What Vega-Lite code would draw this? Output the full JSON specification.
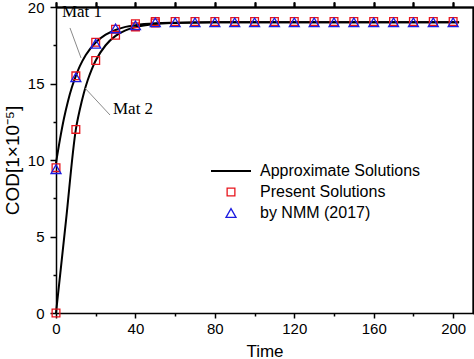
{
  "$schema": "https://vega.github.io/schema/vega-lite/v6.json",
  "width": 417,
  "height": 306,
  "autosize": {"type": "none"},
  "padding": {"left": 56, "top": 7, "right": 1, "bottom": 46},
  "background": "white",
  "config": {
    "view": {"stroke": null},
    "font": "Liberation Sans",
    "axis": {
      "grid": false,
      "labelFlush": false,
      "domainColor": "black",
      "domainWidth": 1.5,
      "tickColor": "black",
      "tickWidth": 1.5,
      "labelColor": "black",
      "labelFont": "Liberation Sans",
      "labelFontSize": 15,
      "titleColor": "black",
      "titleFont": "Liberation Sans",
      "titleFontWeight": "normal"
    }
  },
  "datasets": {
    "curves": [
      {"mat": "Mat 1", "t": 0, "v": 9.8},
      {"mat": "Mat 1", "t": 2, "v": 11.35},
      {"mat": "Mat 1", "t": 4, "v": 12.71},
      {"mat": "Mat 1", "t": 6, "v": 13.83},
      {"mat": "Mat 1", "t": 8, "v": 14.75},
      {"mat": "Mat 1", "t": 10, "v": 15.5},
      {"mat": "Mat 1", "t": 12, "v": 16.13},
      {"mat": "Mat 1", "t": 15, "v": 16.86},
      {"mat": "Mat 1", "t": 20, "v": 17.68},
      {"mat": "Mat 1", "t": 25, "v": 18.19},
      {"mat": "Mat 1", "t": 30, "v": 18.5},
      {"mat": "Mat 1", "t": 35, "v": 18.7},
      {"mat": "Mat 1", "t": 40, "v": 18.81},
      {"mat": "Mat 1", "t": 50, "v": 18.93},
      {"mat": "Mat 1", "t": 60, "v": 18.97},
      {"mat": "Mat 1", "t": 70, "v": 18.99},
      {"mat": "Mat 1", "t": 80, "v": 19.0},
      {"mat": "Mat 1", "t": 120, "v": 19.0},
      {"mat": "Mat 1", "t": 160, "v": 19.0},
      {"mat": "Mat 1", "t": 203, "v": 19.0},
      {"mat": "Mat 2", "t": 0, "v": 0},
      {"mat": "Mat 2", "t": 5, "v": 6.0},
      {"mat": "Mat 2", "t": 10, "v": 12.0},
      {"mat": "Mat 2", "t": 12, "v": 13.3},
      {"mat": "Mat 2", "t": 14, "v": 14.37},
      {"mat": "Mat 2", "t": 16, "v": 15.23},
      {"mat": "Mat 2", "t": 18, "v": 15.93},
      {"mat": "Mat 2", "t": 20, "v": 16.5},
      {"mat": "Mat 2", "t": 25, "v": 17.5},
      {"mat": "Mat 2", "t": 30, "v": 18.11},
      {"mat": "Mat 2", "t": 35, "v": 18.47},
      {"mat": "Mat 2", "t": 40, "v": 18.68},
      {"mat": "Mat 2", "t": 50, "v": 18.89},
      {"mat": "Mat 2", "t": 60, "v": 18.96},
      {"mat": "Mat 2", "t": 70, "v": 18.99},
      {"mat": "Mat 2", "t": 80, "v": 19.0},
      {"mat": "Mat 2", "t": 120, "v": 19.0},
      {"mat": "Mat 2", "t": 160, "v": 19.0},
      {"mat": "Mat 2", "t": 203, "v": 19.0}
    ],
    "present": [
      {"mat": "Mat 1", "t": 0, "v": 9.5},
      {"mat": "Mat 1", "t": 10, "v": 15.5},
      {"mat": "Mat 1", "t": 20, "v": 17.7},
      {"mat": "Mat 1", "t": 30, "v": 18.55},
      {"mat": "Mat 1", "t": 40, "v": 18.9},
      {"mat": "Mat 1", "t": 50, "v": 19.05},
      {"mat": "Mat 1", "t": 60, "v": 19.05},
      {"mat": "Mat 1", "t": 70, "v": 19.05},
      {"mat": "Mat 1", "t": 80, "v": 19.05},
      {"mat": "Mat 1", "t": 90, "v": 19.05},
      {"mat": "Mat 1", "t": 100, "v": 19.05},
      {"mat": "Mat 1", "t": 110, "v": 19.05},
      {"mat": "Mat 1", "t": 120, "v": 19.05},
      {"mat": "Mat 1", "t": 130, "v": 19.05},
      {"mat": "Mat 1", "t": 140, "v": 19.05},
      {"mat": "Mat 1", "t": 150, "v": 19.05},
      {"mat": "Mat 1", "t": 160, "v": 19.05},
      {"mat": "Mat 1", "t": 170, "v": 19.05},
      {"mat": "Mat 1", "t": 180, "v": 19.05},
      {"mat": "Mat 1", "t": 190, "v": 19.05},
      {"mat": "Mat 1", "t": 200, "v": 19.05},
      {"mat": "Mat 2", "t": 0, "v": 0},
      {"mat": "Mat 2", "t": 10, "v": 12.0},
      {"mat": "Mat 2", "t": 20, "v": 16.5},
      {"mat": "Mat 2", "t": 30, "v": 18.15},
      {"mat": "Mat 2", "t": 40, "v": 18.7},
      {"mat": "Mat 2", "t": 50, "v": 18.95}
    ],
    "nmm": [
      {"t": 0, "v": 9.4},
      {"t": 10, "v": 15.4},
      {"t": 20, "v": 17.6},
      {"t": 30, "v": 18.6},
      {"t": 40, "v": 18.8},
      {"t": 50, "v": 19.0},
      {"t": 60, "v": 19.0},
      {"t": 70, "v": 19.0},
      {"t": 80, "v": 19.0},
      {"t": 90, "v": 19.0},
      {"t": 100, "v": 19.0},
      {"t": 110, "v": 19.0},
      {"t": 120, "v": 19.0},
      {"t": 130, "v": 19.0},
      {"t": 140, "v": 19.0},
      {"t": 150, "v": 19.0},
      {"t": 160, "v": 19.0},
      {"t": 170, "v": 19.0},
      {"t": 180, "v": 19.0},
      {"t": 190, "v": 19.0},
      {"t": 200, "v": 19.0}
    ],
    "labels": [
      {"label": "Mat 1", "t": 3.0, "v": 19.67, "lt": 7.05, "lv": 18.63, "lt2": 12.6, "lv2": 16.67},
      {"label": "Mat 2", "t": 28.7, "v": 13.33, "lt": 14.6, "lv": 14.7, "lt2": 27.2, "lv2": 12.94}
    ]
  },
  "layer": [
    {
      "data": {"values": [{"t": 0, "v": 0}]},
      "mark": {"type": "point", "opacity": 0},
      "encoding": {
        "x": {"field": "t", "type": "quantitative", "scale": {"domain": [0, 210], "nice": false},
          "axis": {"values": [20, 60, 100, 140, 180], "labels": false, "domain": false, "tickSize": 3, "title": null, "orient": "bottom"}},
        "y": {"field": "v", "type": "quantitative", "scale": {"domain": [0, 20], "nice": false},
          "axis": {"values": [2.5, 7.5, 12.5, 17.5], "labels": false, "domain": false, "tickSize": 3, "title": null, "orient": "left"}}
      }
    },
    {
      "data": {"name": "curves"},
      "transform": [{"calculate": "'Approximate Solutions'", "as": "series"}],
      "mark": {"type": "line", "interpolate": "monotone", "strokeWidth": 2},
      "encoding": {
        "x": {"field": "t", "type": "quantitative", "scale": {"domain": [0, 210], "nice": false},
          "axis": {"values": [0, 40, 80, 120, 160, 200], "tickSize": 5, "labelPadding": 3, "title": "Time", "titleFontSize": 17, "titlePadding": 7, "orient": "bottom"}},
        "y": {"field": "v", "type": "quantitative", "scale": {"domain": [0, 20], "nice": false},
          "axis": {"values": [0, 5, 10, 15, 20], "tickSize": 6, "labelPadding": 6, "title": "COD[1×10⁻⁵]", "titleFontSize": 19, "titlePadding": 5, "orient": "left"}},
        "detail": {"field": "mat"},
        "stroke": {"field": "series", "type": "nominal",
          "scale": {"domain": ["Approximate Solutions", "Present Solutions", "by NMM (2017)"], "range": ["black", "#e8141c", "#1c1ce0"]},
          "legend": {"orient": "none", "legendX": 167, "legendY": 156, "title": null, "labelFontSize": 16, "labelFont": "Liberation Sans", "labelColor": "black", "labelOffset": 21, "labelLimit": 400, "rowPadding": 5, "padding": 0, "symbolSize": 100,
            "encode": {"symbols": {"update": {
              "size": {"signal": "datum.value === 'Approximate Solutions' ? 1600 : datum.value === 'Present Solutions' ? 60 : 100"},
              "strokeWidth": {"signal": "datum.value === 'Approximate Solutions' ? 2 : 1.3"}
            }}}}
        }
      }
    },
    {
      "data": {"name": "present"},
      "transform": [{"calculate": "'Present Solutions'", "as": "series"}],
      "mark": {"type": "point", "filled": false, "opacity": 1, "size": 60, "strokeWidth": 1.3},
      "encoding": {
        "x": {"field": "t", "type": "quantitative"},
        "y": {"field": "v", "type": "quantitative"},
        "stroke": {"field": "series", "type": "nominal"},
        "shape": {"field": "series", "type": "nominal",
          "scale": {"domain": ["Approximate Solutions", "Present Solutions", "by NMM (2017)"], "range": ["stroke", "square", "triangle-up"]}}
      }
    },
    {
      "data": {"name": "nmm"},
      "transform": [{"calculate": "'by NMM (2017)'", "as": "series"}],
      "mark": {"type": "point", "filled": false, "opacity": 1, "size": 100, "strokeWidth": 1.3},
      "encoding": {
        "x": {"field": "t", "type": "quantitative"},
        "y": {"field": "v", "type": "quantitative"},
        "stroke": {"field": "series", "type": "nominal"},
        "shape": {"field": "series", "type": "nominal"}
      }
    },
    {
      "data": {"name": "labels"},
      "mark": {"type": "rule", "color": "#8a8a8a", "strokeWidth": 1},
      "encoding": {
        "x": {"field": "lt", "type": "quantitative"},
        "y": {"field": "lv", "type": "quantitative"},
        "x2": {"field": "lt2"},
        "y2": {"field": "lv2"}
      }
    },
    {
      "data": {"name": "labels"},
      "mark": {"type": "text", "align": "left", "baseline": "middle", "font": "Liberation Serif", "fontSize": 17, "color": "black"},
      "encoding": {
        "x": {"field": "t", "type": "quantitative"},
        "y": {"field": "v", "type": "quantitative"},
        "text": {"field": "label"}
      }
    }
  ],
  "resolve": {"axis": {"x": "independent", "y": "independent"}}
}
